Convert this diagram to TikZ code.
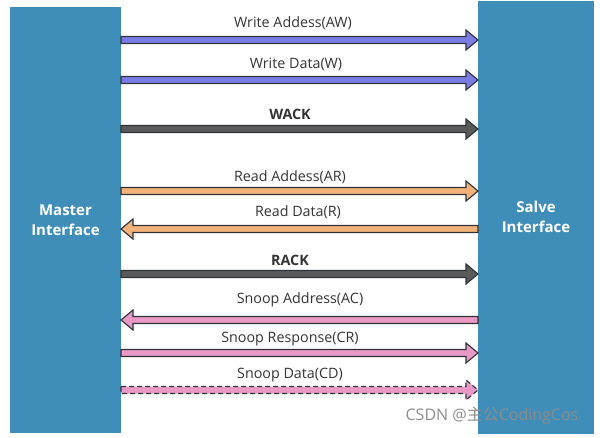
\documentclass[tikz,border=0pt]{standalone}
\usepackage{fontspec}
\setmainfont{Open Sans}
\newfontfamily\cjk{Noto Sans CJK SC}
\definecolor{boxc}{HTML}{3F8EB9}
\definecolor{purp}{HTML}{7B7BE8}
\definecolor{dgray}{HTML}{5A5A5A}
\definecolor{orng}{HTML}{F2B27A}
\definecolor{pink}{HTML}{EA98C6}
\definecolor{edge}{HTML}{2F3338}
\newcommand{\rarr}[3]{\draw[draw=edge,line width=1.1pt,fill=#2,#3] (121,#1-3.5)--(466,#1-3.5)--(466,#1-10)--(478,#1)--(466,#1+10)--(466,#1+3.5)--(121,#1+3.5)--cycle;}
\newcommand{\larr}[3]{\draw[draw=edge,line width=1.1pt,fill=#2,#3] (478,#1-3.5)--(133,#1-3.5)--(133,#1-10)--(121,#1)--(133,#1+10)--(133,#1+3.5)--(478,#1+3.5)--cycle;}
\begin{document}
\begin{tikzpicture}[x=1pt,y=-1pt,
  lbl/.style={font=\fontsize{14.3}{16}\selectfont,text=black!80},
  blbl/.style={font=\fontsize{14.3}{16}\selectfont\bfseries,text=black!80}]
\useasboundingbox (0,0) rectangle (600,437);
\fill[boxc] (10,7) rectangle (121,433);
\node[text=white,font=\fontsize{15}{20}\selectfont\bfseries,align=center] (m) at (65.5,220) {Master\\Interface};
\fill[boxc] (478,1) rectangle (594,434);
\node[text=white,font=\fontsize{15}{20}\selectfont\bfseries,align=center] (s) at (536,217) {Salve\\Interface};
\rarr{40}{purp}{}
\rarr{80}{purp}{}
\rarr{129}{dgray}{}
\rarr{191}{orng}{}
\larr{229}{orng}{}
\rarr{274}{dgray}{}
\larr{320}{pink}{}
\rarr{353}{pink}{}
\rarr{390}{pink}{dash pattern=on 5pt off 3pt}
\node[lbl] (l1) at (293,23) {Write Addess(AW)};
\node[lbl] (l2) at (296,64) {Write Data(W)};
\node[blbl] (l3) at (290,114) {WACK};
\node[lbl] (l4) at (290,177) {Read Addess(AR)};
\node[lbl] (l5) at (298,212) {Read Data(R)};
\node[blbl] (l6) at (290,260) {RACK};
\node[lbl] (l7) at (300,300) {Snoop Address(AC)};
\node[lbl] (l8) at (290,339) {Snoop Response(CR)};
\node[lbl] (l9) at (290,375) {Snoop Data(CD)};
\node[text=black!45,font=\fontsize{16}{18}\selectfont] (wm) at (492,416) {CSDN @{\cjk 主公}CodingCos};
\end{tikzpicture}
\end{document}
